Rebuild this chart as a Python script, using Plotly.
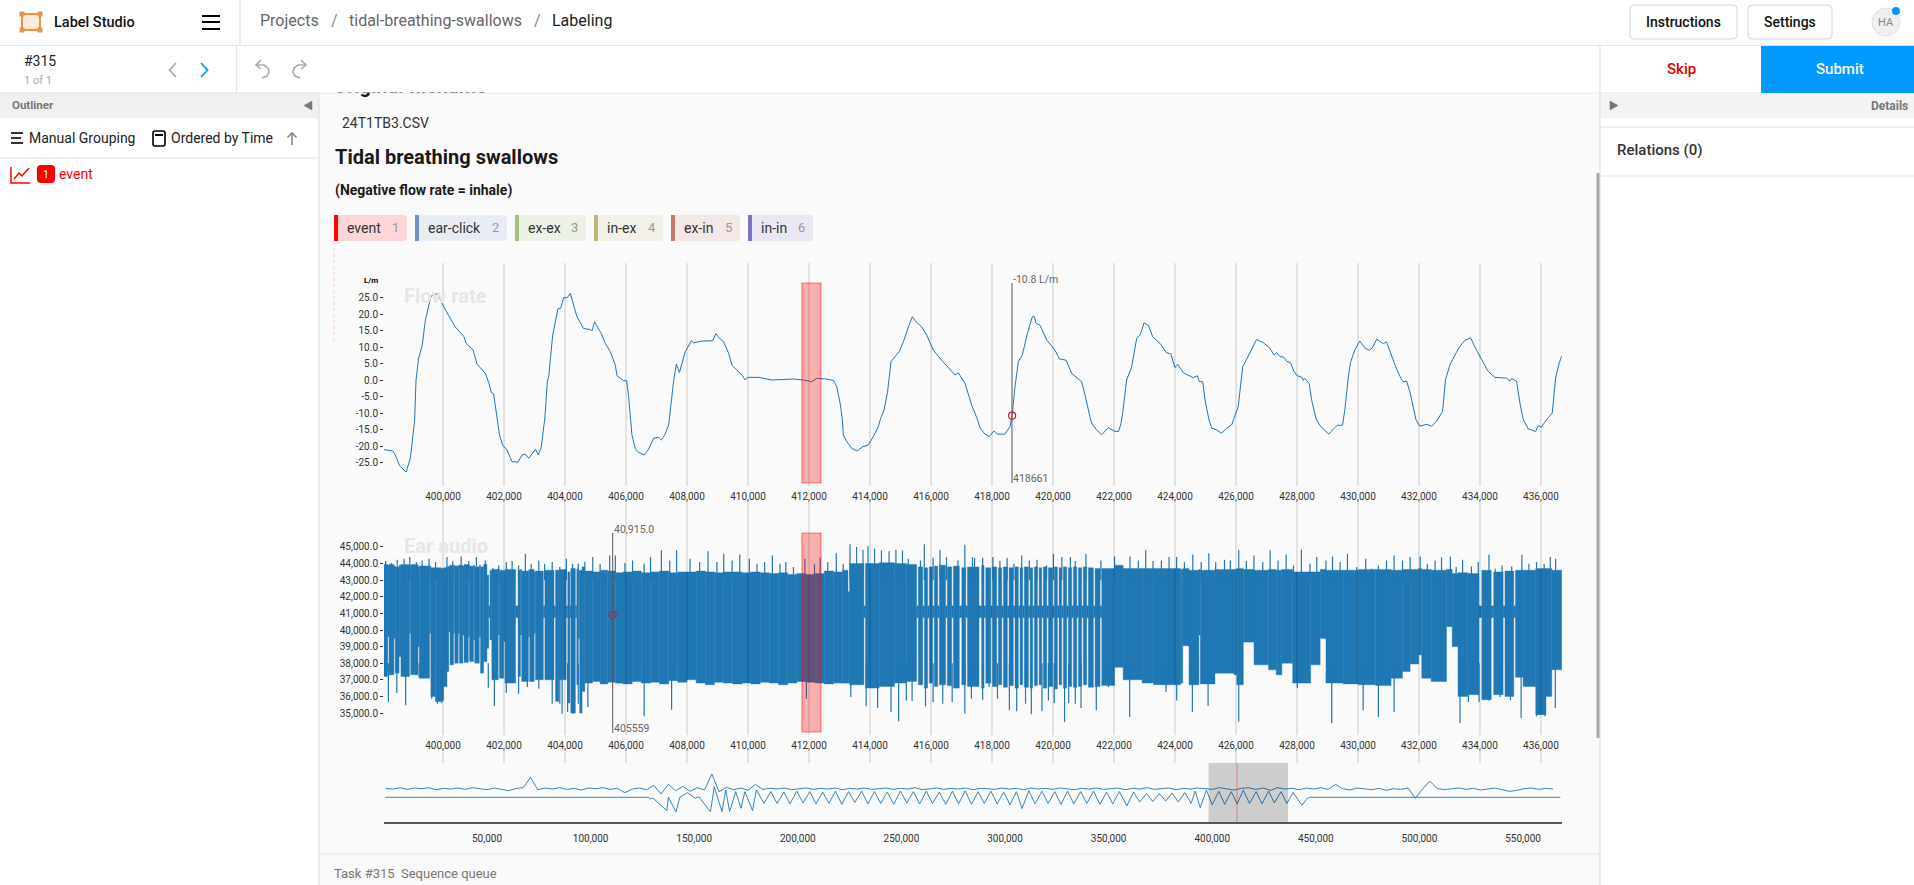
import numpy as np
import plotly.graph_objects as go

W, H = 1914, 885
FONT = "Roboto"
BLUE = "#1f77b4"

# flow rate (L/m)
flow_x = [398065, 398350, 398440, 398570, 398790, 398930, 399070, 399115, 399200, 399320,
          399420, 399605, 399825, 400020, 400400, 400690, 400755, 400985, 401115, 401390,
          401500, 401585, 401660, 401790, 401850, 401955, 402100, 402260, 402460, 402590,
          402700, 402810, 403030, 403125, 403225, 403310, 403335, 403420, 403465, 403595,
          403770, 403855, 403955, 404065, 404175, 404390, 404610, 404830, 404885, 404970,
          405190, 405320, 405485, 405650, 405705, 405925, 406020, 406085, 406165, 406195,
          406305, 406415, 406600, 406745, 406905, 407070, 407160, 407270, 407400, 407455,
          407565, 407650, 407750, 407945, 408145, 408220, 408490, 408840, 408950, 409040,
          409200, 409365, 409475, 409800, 409910, 409980, 410350, 410785, 411115, 411490,
          411815, 412090, 412250, 412580, 412800, 412910, 413020, 413095, 413125, 413235,
          413400, 413585, 413760, 413945, 414110, 414275, 414350, 414460, 414570, 414690,
          414960, 415095, 415260, 415390, 415475, 415695, 415860, 416075, 416350, 416790,
          416895, 417115, 417335, 417530, 417610, 417770, 417915, 418070, 418175, 418425,
          418590, 418661, 418755, 418865, 418995, 419160, 419325, 419390, 419445, 419575,
          419795, 420065, 420210, 420430, 420615, 420940, 421050, 421160, 421235, 421300,
          421430, 421595, 421815, 422035, 422145, 422220, 422285, 422415, 422580, 422745,
          422855, 422985, 423130, 423270, 423510, 423730, 423860, 424000, 424090, 424275,
          424600, 424735, 424800, 424910, 424985, 425115, 425205, 425365, 425530, 425695,
          425860, 425935, 426075, 426220, 426460, 426680, 426900, 427115, 427245, 427335,
          427440, 427570, 427660, 427790, 427900, 428010, 428150, 428205, 428260, 428400,
          428480, 428620, 428750, 428915, 429045, 429190, 429320, 429495, 429570, 429680,
          429755, 429900, 430060, 430225, 430370, 430465, 430620, 430720, 430830, 430935,
          431080, 431245, 431430, 431505, 431595, 431725, 431900, 432030, 432250, 432415,
          432575, 432775, 432870, 433015, 433230, 433340, 433505, 433690, 433890, 434105,
          434270, 434490, 434870, 434980, 435035, 435200, 435310, 435420, 435585, 435825,
          435910, 436020, 436185, 436370, 436480, 436600, 436675]
flow_y = [-21.1, -21.5, -22.7, -25.9, -27.9, -23.7, -12.1, 0.0, 6.6, 10.6,
          18.1, 25.4, 26.2, 22.2, 16.1, 13.1, 11.1, 9.1, 4.8, 2.0,
          -0.8, -3.8, -4.2, -12.1, -16.6, -19.7, -21.2, -24.7, -24.9, -22.7,
          -22.5, -23.7, -21.0, -22.7, -20.2, -13.6, -12.1, -0.5, 1.0, 13.6,
          21.6, 21.7, 25.0, 24.9, 26.2, 19.2, 15.6, 15.3, 14.9, 17.6,
          14.1, 11.1, 8.6, 4.5, 1.3, -0.2, -0.2, -5.0, -12.1, -16.6,
          -20.9, -21.9, -22.7, -20.9, -17.6, -17.4, -18.2, -16.6, -13.6, -9.1,
          0.0, 4.8, 2.3, 8.6, 11.9, 11.3, 11.8, 11.9, 14.1, 12.9,
          11.6, 8.1, 4.5, 1.5, 0.0, 0.8, 0.8, 0.0, 0.1, 0.3,
          0.0, -0.5, 0.5, 0.3, -0.1, -2.0, -7.0, -12.1, -16.6, -18.6,
          -20.7, -21.5, -20.2, -19.7, -17.1, -14.1, -11.6, -9.1, -4.0, 5.6,
          8.6, 11.6, 16.1, 19.2, 18.0, 16.1, 13.6, 9.1, 6.0, 1.5,
          2.2, -1.0, -7.6, -12.1, -14.6, -16.4, -17.1, -15.4, -16.4, -16.4,
          -14.1, -10.8, -2.0, 5.6, 7.6, 14.1, 19.2, 19.2, 17.2, 16.6,
          12.1, 9.1, 6.4, 6.0, 2.0, -0.5, -4.5, -9.1, -12.1, -13.6,
          -15.1, -16.6, -14.4, -15.6, -15.6, -13.6, -10.1, 0.0, 4.0, 12.6,
          13.6, 17.3, 16.6, 13.1, 11.1, 8.2, 8.0, 3.8, 4.8, 2.2,
          0.7, 1.3, -0.5, -0.5, -6.0, -12.1, -14.6, -15.1, -16.1, -14.6,
          -13.6, -11.6, -8.0, 4.0, 8.6, 12.3, 11.3, 9.6, 7.6, 8.3,
          7.1, 6.9, 5.7, 5.2, 2.6, 1.3, 0.9, -0.1, 0.5, -1.1,
          -6.0, -11.5, -13.8, -15.4, -16.4, -14.9, -13.7, -13.7, -9.0, 0.6,
          5.3, 9.2, 11.8, 9.7, 9.0, 9.7, 12.4, 11.7, 11.0, 11.6,
          8.2, 3.8, 0.1, -0.6, -0.3, -4.4, -12.0, -14.0, -13.4, -14.0,
          -12.5, -9.5, 0.1, 4.6, 8.4, 10.2, 12.0, 12.8, 9.0, 5.2,
          2.6, 0.8, 0.6, -0.3, 0.4, -0.3, -7.0, -12.0, -14.8, -15.6,
          -13.8, -14.2, -12.0, -10.0, 0.6, 5.2, 7.2]

# ear audio: body of the signal as columns, left edge / top / bottom
audio_x = [398060, 398190, 398230, 398390, 398430, 398560, 398620, 398900, 398940, 399180,
           399220, 399560, 399600, 399750, 399950, 400020, 400130, 400190, 400230, 400345,
           400385, 400500, 400540, 400650, 400690, 400830, 400870, 401000, 401040, 401190,
           401230, 401330, 401440, 401500, 401540, 401600, 401810, 401850, 401990, 402030,
           402380, 402460, 402540, 402580, 402800, 402840, 402990, 403030, 403290, 403340,
           403640, 403690, 403800, 404040, 404090, 404160, 404190, 404340, 404385, 404440,
           404480, 404560, 404650, 404900, 405150, 405400, 405650, 405900, 406200, 406500,
           406800, 407100, 407400, 407700, 408000, 408300, 408600, 408900, 409200, 409500,
           409800, 410100, 410400, 410700, 411000, 411300, 411600, 411900, 412200, 412500,
           412800, 413100, 413280, 413330, 413800, 413850, 414300, 414800, 415200,
           415530, 415585, 415730, 415785, 415890, 415945, 416055, 416110, 416220, 416275,
           416480, 416535, 416680, 416735, 416930, 417010, 417140, 417195, 417575, 417660,
           417740, 417795, 417960, 418015, 418155, 418210, 418320, 418375, 418505, 418560,
           418700, 418755, 418865, 418920, 419005, 419060, 419195, 419250, 419335, 419390,
           419490, 419545, 419630, 419685, 419795, 419850, 419990, 420045, 420145, 420200,
           420285, 420340, 420450, 420505, 420615, 420670, 420780, 420835, 420940, 420995,
           421105, 421160, 421325, 421380, 421545, 421600,
           422020, 422300, 422925, 423300, 424180, 424255, 424460, 424785, 424830, 425310,
           425940, 426025, 426240, 426590, 427070, 427320, 427505, 427860, 428450, 428760,
           428950, 429515, 430015, 430580, 431085, 431460, 431710, 431990, 432090, 432400,
           432905, 433090, 433280, 433595, 433970, 434060, 434370, 434450, 434760, 434820,
           435110, 435165, 435415, 435830, 436165, 436355, 436680]
audio_top = [43950, 43900, 43950, 43850, 43800, 43900, 43950, 43850, 43950, 43800,
             43850, 43850, 43750, 43750, 43700, 43750, 43800, 43850, 43900, 43900,
             43850, 43900, 43900, 43850, 43950, 43900, 43850, 43900, 43800, 43900,
             43800, 43950, 43300, 41450, 43600, 43650, 43650, 43600, 43550, 43650,
             41450, 43600, 43650, 43550, 43600, 43650, 43500, 43550, 41450, 43600,
             41450, 43600, 43650, 41450, 43500, 41450, 43700, 41450, 43650, 43550,
             43600, 43800, 43550, 43500, 43600, 43550, 43450, 43500, 43550, 43450,
             43500, 43550, 43450, 43500, 43500, 43550, 43500, 43450, 43500, 43500,
             43450, 43500, 43450, 43400, 43450, 43350, 43400, 43350, 43400, 43550,
             43500, 43600, 42300, 44000, 41450, 44000, 44050, 44000, 43950,
             41450, 43800, 41450, 43750, 41450, 43800, 41450, 43850, 41450, 43900,
             41450, 43800, 41450, 43850, 41450, 43750, 41450, 43800, 41450, 43900,
             41450, 43750, 41450, 43800, 41450, 43750, 41450, 43800, 41450, 43750,
             41450, 43800, 41450, 43750, 41450, 43800, 41450, 43750, 41450, 43800,
             41450, 43750, 41450, 43800, 41450, 43750, 41450, 43800, 41450, 43750,
             41450, 43800, 41450, 43750, 41450, 43800, 41450, 43750, 41450, 43800,
             41450, 43750, 41450, 43700, 41450, 43700,
             43900, 43700, 43700, 43700, 43650, 43700, 43600, 43650, 43600, 43650,
             43650, 43700, 43650, 43600, 43650, 43600, 43650, 43500, 43500, 43650,
             43600, 43600, 43650, 43650, 43600, 43650, 43650, 43700, 43650, 43600,
             43650, 43400, 43450, 43400, 41450, 43600, 41450, 43500, 41450, 43550,
             41450, 43600, 43600, 43700, 43700, 43600, 43600]
audio_bot = [37200, 39600, 37300, 39500, 37400, 38400, 37200, 39800, 37300, 39000,
             37100, 39800, 36000, 35700, 35750, 36600, 37500, 39900, 37900, 39800,
             38000, 39800, 38000, 39700, 38050, 39600, 38100, 39400, 38000, 39600,
             37400, 38100, 38900, 40750, 39400, 37000, 39700, 37100, 39300, 36800,
             40750, 37200, 39700, 36900, 39600, 36900, 39800, 37000, 40750, 37000,
             40750, 35700, 37000, 40750, 35600, 40750, 35000, 40750, 36700, 39500,
             35000, 36300, 36800, 36900, 36750, 36850, 36800, 36750, 36900, 36800,
             36850, 36750, 36950, 36850, 37000, 36800, 36700, 36850, 36800, 36750,
             36800, 36750, 36850, 36800, 36700, 36800, 36900, 36850, 36800, 36750,
             36800, 36800, 36800, 36700, 40750, 36500, 36600, 36800, 36900,
             40750, 36700, 40750, 36500, 40750, 36800, 40750, 36600, 40750, 36700,
             40750, 36650, 40750, 36500, 40750, 36700, 40750, 36600, 40750, 36500,
             40750, 36800, 40750, 36600, 40750, 36700, 40750, 36550, 40750, 36650,
             40750, 36500, 40750, 36700, 40750, 36550, 40750, 36500, 40750, 36650,
             40750, 36700, 40750, 36500, 40750, 36600, 40750, 36450, 40750, 36700,
             40750, 36500, 40750, 36600, 40750, 36550, 40750, 36600, 40750, 36700,
             40750, 36550, 40750, 36600, 40750, 36650,
             37750, 37000, 36800, 36700, 36800, 39050, 36700, 39700, 36750, 37400,
             37300, 36700, 39270, 37900, 37600, 37300, 38000, 36800, 37900, 39500,
             36800, 36750, 36700, 36650, 37100, 37500, 37950, 38500, 37100, 36900,
             40200, 39000, 36000, 36100, 40750, 35800, 40750, 36100, 40750, 36000,
             40750, 37150, 36600, 34900, 36000, 37600, 37600]

# tallest single strokes above and below the body
up_x = [398120, 398310, 398500, 398725, 398910, 399125, 399315, 399540, 399755, 400130,
        400320, 400595, 400845, 401095, 401385, 401635, 401825, 402075, 402265, 402480,
        402700, 402890, 403140, 403330, 403580, 403830, 404045, 404245, 404435, 404650,
        404910, 405150, 405465, 405650, 405965, 406215, 406595, 406805, 407160, 407435,
        407660, 408100, 408415, 408690, 408980, 409205, 409480, 409730, 410045, 410295,
        410545, 410800, 411050, 411240, 411490, 411865, 412180, 412365, 412615, 412895,
        413120, 413345, 413560, 413770, 413935, 414150, 414375, 414625, 414850, 415065,
        415255, 415480, 415655, 415780, 416070, 416295, 416510, 416885, 417110, 417360,
        417430, 417695, 418030, 418260, 418495, 418720, 418975, 419225, 419475, 419790,
        420015, 420290, 420570, 420730, 421080, 421570, 422020, 422275, 422525, 422800,
        423040, 423280, 423555, 423805, 424055, 424310, 424585, 424860, 425110, 425335,
        425625, 425815, 426090, 426340, 426590, 426880, 427120, 427380, 427645, 427885,
        428145, 428425, 428650, 428950, 429165, 429415, 429655, 429955, 430255, 430455,
        430670, 430935, 431185, 431460, 431710, 432040, 432275, 432530, 432740, 433030,
        433220, 433430, 433720, 433945, 434295, 434500, 434725, 435040, 435375, 435605,
        435855, 436105, 436305, 436480]
up_y = [44150, 44030, 44230, 44290, 44390, 44090, 44190, 44290, 44090, 44390,
        44150, 44430, 44150, 44390, 44190, 43750, 43890, 44090, 44150, 43890,
        44590, 43990, 44190, 43990, 44090, 43790, 44290, 43990, 43990, 44090,
        44390, 43990, 44490, 44490, 44030, 44190, 43990, 44390, 44800, 44190,
        44800, 44290, 44090, 44750, 44090, 44590, 44190, 44550, 44290, 43990,
        44090, 44490, 43990, 44090, 43790, 44290, 43990, 44350, 44090, 44630,
        43990, 45160, 45000, 44840, 45040, 44900, 44800, 44750, 44840, 44800,
        44290, 43890, 44190, 45160, 44350, 44840, 44390, 44190, 45140, 44390,
        44350, 44350, 44390, 44150, 44350, 43990, 44490, 44190, 44230, 43890,
        44590, 44390, 44390, 44150, 44590, 44190, 44430, 43830, 44430, 44190,
        44800, 44150, 44190, 44390, 44390, 44090, 44550, 44090, 44630, 44090,
        44230, 44190, 44840, 44150, 44490, 44090, 44800, 44190, 44550, 43890,
        44840, 43990, 44390, 44190, 44430, 44090, 44590, 43790, 44290, 43690,
        43890, 44190, 44490, 44190, 44390, 44430, 43990, 44190, 44390, 44430,
        43790, 44230, 43830, 44090, 44550, 43690, 43890, 43830, 44530, 43990,
        44090, 43990, 44390, 44290]
down_x = [398210, 398486, 398775, 399215, 399630, 399815, 399965, 401485, 401685, 402075,
          402480, 402765, 403140, 403580, 403830, 403905, 404085, 404270, 404435, 404750,
          406595, 407495, 411915, 413370, 413875, 414250, 414690, 414940, 415190, 415380,
          415820, 416070, 416385, 416695, 417110, 417325, 417695, 417905, 418180, 418570,
          418810, 419100, 419290, 419640, 419850, 420040, 420380, 420515, 420730, 420920,
          421420, 421820, 422515, 423705, 424055, 424570, 425085, 426090, 428010, 429140,
          430170, 430670, 431185, 433345, 433620, 433970, 434285, 434660, 434999, 435350,
          435855, 436130, 436470]
down_y = [35660, 36200, 35460, 37165, 35860, 35560, 35600, 36520, 35420, 36200,
          36160, 36560, 36460, 35560, 35560, 34960, 35060, 34960, 35560, 35360,
          34810, 35190, 35860, 35960, 35400, 35300, 35060, 34500, 35760, 35720,
          35400, 35660, 35560, 35660, 34960, 35860, 35800, 36560, 35860, 35160,
          35100, 35560, 34920, 35100, 35760, 35600, 34450, 35600, 35560, 35300,
          35160, 36560, 34760, 36260, 35760, 35060, 35420, 34470, 36520, 34390,
          35160, 34760, 35060, 34390, 35660, 35660, 35760, 35960, 35760, 34700,
          34800, 34800, 35300]

# overview strip: whole recording
ovw_audio_x = list(range(1000, 568000, 3500))
ovw_audio_y = [40700, 40500, 40900, 40400, 40800, 40600, 40900, 40300, 40700, 40500,
               40800, 40400, 40900, 40600, 40300, 40800, 40500, 40000, 40700, 40900,
               44000, 40300, 40800, 40500, 40900, 40400, 40700, 40200, 40800, 40600,
               40900, 40400, 40700, 39400, 40500, 40800, 40300, 41600, 39000, 41900,
               40000, 41300, 39800, 40900, 40200, 45000, 39700, 41000, 40300, 40800,
               40100, 41900, 40400, 40700, 40500, 40800, 40300, 40600, 40800, 40400,
               40700, 40500, 40800, 40300, 40700, 40500, 40800, 40400, 40600, 40800,
               40400, 40700, 40500, 40900, 40300, 40600, 40800, 40400, 40700, 40500,
               40800, 40300, 40700, 40600, 40400, 40800, 40500, 40700, 40300, 40800,
               40500, 40700, 40400, 40800, 40600, 40300, 40700, 40500, 40800, 40400,
               40600, 40800, 40300, 40700, 40500, 40900, 40400, 40600, 40800, 40300,
               40700, 40500, 40800, 40600, 40400, 40900, 40500, 40200, 40700, 40900,
               40400, 40800, 40100, 40900, 40500, 40700, 40300, 40800, 40500, 40900,
               40400, 41900, 40600, 40200, 40800, 40500, 40300, 40700, 40100, 40600,
               40400, 40800, 37700, 40500, 42900, 40700, 40300, 40600, 40800, 40400,
               40700, 40200, 40500, 40800, 40300, 39800, 40100, 40600, 40800, 40400,
               40700, 40500]
ovw_flow_x = [1000, 128000, 129030, 130140, 136790, 137530, 141220, 143070, 146760, 150450,
              152300, 157840, 159690, 163380, 165220, 167070, 170030, 172610, 174460, 178150,
              180000, 183690, 187000, 190000, 193300, 196200, 199500, 202500, 205800, 208800,
              212000, 215000, 218200, 221200, 224500, 227500, 230800, 233800, 237000, 240000,
              243200, 246300, 249500, 252600, 255800, 258800, 262000, 265000, 268300, 271400,
              274600, 277600, 280800, 283800, 287000, 290000, 293200, 296200, 299400, 302400,
              305500, 308200, 311500, 314500, 317800, 320800, 324000, 327000, 330200, 333200,
              336500, 339500, 342700, 345800, 349000, 352000, 355200, 358800, 362000, 365000,
              368300, 371300, 374500, 377500, 380600, 383600, 386800, 389800, 391800, 394200,
              397200, 400000, 403200, 406000, 409200, 412000, 415000, 418000, 421200, 424000,
              427200, 430000, 433200, 436000, 439000, 441800, 443300, 445900, 447000, 568000]
ovw_flow_y = [0, 0, -3.5, -2, -28.4, 0, -31, 0, 10, -2,
              1, -31, 22.7, -30.5, 15.6, -30.5, 12, -23.4, 12, -28.4,
              15.6, -12.8, 12, -13, 11, -14, 13, -12, 12, -14,
              11, -13, 13, -15, 12, -11, 13, -14, 12, -13,
              11, -15, 13, -12, 12, -14, 13, -13, 11, -15,
              13, -14, 14, -15, 12, -13, 13, -14, 11, -16,
              12, -24, 14, -14, 13, -13, 12, -15, 13, -14,
              12, -13, 13, -15, 11, -14, 12, -18, 11, -10,
              8, -9, 8, -8, 9, -10, 10, -13, 13, -22,
              15, -16, 13, -15, 12, -14, 15, -13, 12, -14,
              13, -12, 12, -13, 10, -6, -17, -2, 0, 0]

# axes ticks
x_ticks = list(range(400000, 436001, 2000))
ovw_ticks = list(range(50000, 550001, 50000))
flow_ticks = [25, 20, 15, 10, 5, 0, -5, -10, -15, -20, -25]
flow_tick_text = ["25.0", "20.0", "15.0", "10.0", "5.0", "0.0", "-5.0", "-10.0", "-15.0", "-20.0", "-25.0"]
audio_ticks = list(range(35000, 45001, 1000))
audio_tick_text = ["35,000.0", "36,000.0", "37,000.0", "38,000.0", "39,000.0", "40,000.0",
                   "41,000.0", "42,000.0", "43,000.0", "44,000.0", "45,000.0"]

# labels of the toolbar, name / hotkey
label_names = ["event", "ear-click", "ex-ex", "in-ex", "ex-in", "in-in"]
label_keys = ["1", "2", "3", "4", "5", "6"]

# the labelled region and the two crosshairs
region_x = [411770, 412393]
flow_cross = (418661, -10.8)
audio_cross = (405559, 40915)


def px(x):
    return x / W


def py(y):
    return 1 - y / H


shapes = []
notes = []


def rect(x0, y0, x1, y1, fill, line=None, layer="below", lw=1):
    shapes.append(dict(type="rect", xref="paper", yref="paper", x0=px(x0), x1=px(x1), y0=py(y1), y1=py(y0),
                       fillcolor=fill, line=dict(color=line or "rgba(0,0,0,0)", width=lw if line else 0), layer=layer))


def rrect(x0, y0, x1, y1, r, fill, line=None, lw=1):
    d = (f"M {px(x0 + r)} {py(y0)} L {px(x1 - r)} {py(y0)} Q {px(x1)} {py(y0)} {px(x1)} {py(y0 + r)} "
         f"L {px(x1)} {py(y1 - r)} Q {px(x1)} {py(y1)} {px(x1 - r)} {py(y1)} "
         f"L {px(x0 + r)} {py(y1)} Q {px(x0)} {py(y1)} {px(x0)} {py(y1 - r)} "
         f"L {px(x0)} {py(y0 + r)} Q {px(x0)} {py(y0)} {px(x0 + r)} {py(y0)} Z")
    shapes.append(dict(type="path", xref="paper", yref="paper", path=d, fillcolor=fill,
                       line=dict(color=line or "rgba(0,0,0,0)", width=lw if line else 0), layer="below"))


def hline(y, x0, x1, color="#e2e2e2", lw=1.2, layer="below"):
    shapes.append(dict(type="line", xref="paper", yref="paper", x0=px(x0), x1=px(x1), y0=py(y), y1=py(y),
                       line=dict(color=color, width=lw), layer=layer))


def vline(x, y0, y1, color="#e2e2e2", lw=1.2, layer="below"):
    shapes.append(dict(type="line", xref="paper", yref="paper", x0=px(x), x1=px(x), y0=py(y0), y1=py(y1),
                       line=dict(color=color, width=lw), layer=layer))


def poly(pts, color, lw=1.5, fill=None, layer="below"):
    d = "M " + " L ".join(f"{px(a)} {py(b)}" for a, b in pts)
    if fill:
        d += " Z"
    shapes.append(dict(type="path", xref="paper", yref="paper", path=d, fillcolor=fill or "rgba(0,0,0,0)",
                       line=dict(color=color, width=lw), layer=layer))


def circle(cx, cy, r, fill, line=None, lw=1):
    shapes.append(dict(type="circle", xref="paper", yref="paper", x0=px(cx - r), x1=px(cx + r),
                       y0=py(cy + r), y1=py(cy - r), fillcolor=fill,
                       line=dict(color=line or "rgba(0,0,0,0)", width=lw if line else 0), layer="below"))


def label(x, y, text, size=14, color="#333333", anchor="left", weight=None):
    notes.append(dict(xref="paper", yref="paper", x=px(x), y=py(y), text=text, showarrow=False,
                      xanchor=anchor, yanchor="middle", borderpad=0, borderwidth=0,
                      font=dict(family=FONT, size=size, color=color, weight=weight)))


# page panels
rect(0, 0, W, H, "#ffffff")
rect(319, 93, 1600, H, "#fafafa")
rect(0, 93, 319, 118, "#f0f0f0")
rect(1600, 94, W, 118, "#f3f3f3")
hline(45.5, 0, W)
hline(93, 0, W)
hline(158, 0, 319)
vline(319, 93, H)
vline(1600, 46, H)
vline(240, 0, 45.5)
vline(236.5, 46, 93)
hline(854, 319, 1600)
hline(127, 1600, W)
hline(176, 1600, W)
rect(1596.5, 173, 1599.5, 738, "#a8a8a8")

# header
rrect(22, 14, 40, 30, 1, "#fbeadc", "#e8934c", 2)
for cx, cy in [(22, 14), (40, 14), (22, 30), (40, 30)]:
    rect(cx - 2.5, cy - 2.5, cx + 2.5, cy + 2.5, "#e8934c")
label(54, 22, "Label Studio", 14.5, "#111111", weight=500)
for y in [16, 22, 29]:
    hline(y, 202, 220, "#000000", 2)
label(260, 21, "Projects", 16, "#666666")
label(334, 21, "/", 16, "#888888", "center")
label(348.5, 21, "tidal-breathing-swallows", 16, "#666666")
label(537, 21, "/", 16, "#888888", "center")
label(552, 21, "Labeling", 16, "#222222")
rrect(1630, 5, 1737, 39, 4, "#ffffff", "#d6d6d6")
label(1683.5, 22, "Instructions", 14, "#111111", "center", 500)
rrect(1748, 5, 1832, 39, 4, "#ffffff", "#d6d6d6")
label(1790, 22, "Settings", 14, "#111111", "center", 500)
circle(1886, 22, 14, "#f0f0f0", "#e0e0e0")
label(1886, 22, "HA", 11, "#888888", "center")
circle(1896, 11, 4, "#0099ff")

# second row
label(24, 61, "#315", 14, "#222222")
label(24, 80, "1 of 1", 11, "#aaaaaa")
poly([(176, 63), (169.5, 70), (176, 77)], "#aaaaaa", 1.8)
poly([(201, 63), (207.5, 70), (201, 77)], "#0099ff", 1.8)
poly([(261, 60), (256, 65), (261, 69)], "#aaaaaa", 1.6)
poly([(256.5, 65), (264, 65), (268, 68), (269, 72), (267, 76), (262, 78)], "#aaaaaa", 1.6)
poly([(301, 60), (306, 65), (301, 69)], "#aaaaaa", 1.6)
poly([(305.5, 65), (298, 65), (294, 68), (293, 72), (295, 76), (300, 78)], "#aaaaaa", 1.6)
poly([(329, 64), (340, 76)], "#aaaaaa", 1.6)
poly([(340, 64), (329, 76)], "#aaaaaa", 1.6)
hline(65.5, 364, 378, "#000000", 2)
hline(74.5, 364, 378, "#000000", 2)
circle(376, 65.5, 2.2, "#000000")
circle(365.5, 74.5, 2.2, "#000000")
rect(1761, 46, W, 93, "#0099ff")
label(1681, 69, "Skip", 15, "#e30000", "center", 500)
label(1840, 69, "Submit", 15, "#ffffff", "center", 500)

# left panel
label(12, 105, "<b>Outliner</b>", 11.5, "#777777")
poly([(312, 101), (312, 110), (304, 105.5)], "#777777", 0.5, "#777777")
for y, x1 in [(133, 23), (138, 21), (143, 23)]:
    hline(y, 11, x1, "#000000", 1.6)
label(28.5, 138, "Manual Grouping", 14, "#222222")
rrect(153, 131, 165, 146, 2, "rgba(0,0,0,0)", "#000000", 1.6)
hline(135, 155, 163, "#000000", 2)
label(171, 138, "Ordered by Time", 14, "#222222")
poly([(292, 145), (292, 133)], "#888888", 1.6)
poly([(287.5, 137.5), (292, 133), (296.5, 137.5)], "#888888", 1.6)
poly([(11, 167), (11, 183), (30, 183)], "#ff0000", 1.5)
poly([(14, 179), (19, 173), (22, 176), (29, 168)], "#ff0000", 1.5)
rrect(37, 165, 55, 183, 4, "#ff0000")
label(46, 174, "1", 10.5, "#ffffff", "center")
label(59, 174, "event", 14, "#ff0000")

# right panel
poly([(1610, 101), (1610, 110), (1618, 105.5)], "#777777", 0.5, "#777777")
label(1908, 106, "<b>Details</b>", 12, "#777777", "right")
label(1617, 150, "Relations (0)", 15, "#333333", weight=500)

# main column text
label(342, 123, "24T1TB3.CSV", 14, "#333333")
label(334.5, 157, "<b>Tidal breathing swallows</b>", 20, "#1a1a1a")
label(334.5, 190.5, "<b>(Negative flow rate = inhale)</b>", 14, "#1a1a1a")

# label chips
chip_x0 = [334, 415, 515, 594, 671, 748]
chip_x1 = [407, 507, 586, 663, 740, 813]
chip_bg = ["#ffd6d6", "#e8ecf4", "#edf2e6", "#f2f1e8", "#f3e8e5", "#e9e7f3"]
chip_bar = ["#ff0000", "#7293c2", "#a3c27a", "#bfb57a", "#c07a6a", "#8073c0"]
for name, key, a, b, bg, bar in zip(label_names, label_keys, chip_x0, chip_x1, chip_bg, chip_bar):
    rrect(a, 215, b, 241, 3, bg)
    rect(a, 215, a + 4, 241, bar)
    label(a + 12.5, 228, name, 14, "#333333")
    label(b - 11.5, 228, key, 13, "#999999", "center")

vline(334, 248, 345, "rgba(255,0,0,0.18)", 1)
shapes[-1]["line"]["dash"] = "dot"

label(404, 296, "<b>Flow rate</b>", 20, "#e6e6e6")
label(404, 546, "<b>Ear audio</b>", 20, "#e6e6e6")
label(378, 280, "<b>L/m</b>", 8, "#000000", "right")

# crosshair texts
vline(1012, 283, 483, "#555555", 1, "above")
vline(612.7, 533, 733, "#555555", 1, "above")
label(1013, 279, "-10.8 L/m", 10.5, "#666666")
label(1013, 478, "418661", 10.5, "#666666")
label(613.5, 529, "40,915.0", 10.5, "#666666")
label(613.5, 728, "405559", 10.5, "#666666")
label(334, 873, "Task #315&nbsp;&nbsp;Sequence queue", 13, "#777777")

# grid runs through both charts and into the overview
for v in x_ticks:
    for y0, y1 in [(263, 486), (500, 735), (750, 763)]:
        shapes.append(dict(type="line", xref="x", yref="paper", x0=v, x1=v, y0=py(y0), y1=py(y1),
                           line=dict(color="rgba(0,0,0,0.13)", width=1.5), layer="above"))

# labelled region in both charts
for y0, y1 in [(283, 483), (533, 732)]:
    shapes.append(dict(type="rect", xref="x", yref="paper", x0=region_x[0], x1=region_x[1], y0=py(y1), y1=py(y0),
                       fillcolor="rgba(255,0,0,0.3)", line=dict(color="rgba(255,0,0,0.45)", width=1.2), layer="above"))

# overview brush
rect(1208.6, 763, 1288, 822, "rgba(0,0,0,0.18)", layer="above")
vline(1237, 763, 822, "rgba(255,0,0,0.3)", 1.2, "above")
hline(823, 384, 1562, "#222222", 1.5, "above")

# header rows cover the cut off title
rect(320, 46, 1599, 92.4, "#ffffff", layer="above")

fig = go.Figure()

fig.add_trace(go.Scatter(x=[403000], y=[88], xaxis="x5", yaxis="y5", mode="text",
                         text=["<b>Original filename</b>"], textposition="middle center",
                         textfont=dict(family=FONT, size=20, color="#1a1a1a"),
                         cliponaxis=False, hoverinfo="skip"))

fig.add_trace(go.Scatter(x=flow_x, y=flow_y, mode="lines", line=dict(color=BLUE, width=1), hoverinfo="skip"))
fig.add_trace(go.Scatter(x=[flow_cross[0]], y=[flow_cross[1]], mode="markers", hoverinfo="skip",
                         marker=dict(symbol="circle-open", size=7, color="#e0102a", line=dict(width=1.2))))

n = min(len(audio_x), len(audio_top), len(audio_bot))
edges = np.array(audio_x[:n])
tops = np.array(audio_top[:n])
bots = np.array(audio_bot[:n])
fig.add_trace(go.Bar(x=edges[:-1], y=(tops - bots)[:-1], base=bots[:-1], width=np.diff(edges), offset=0,
                     xaxis="x2", yaxis="y2", hoverinfo="skip",
                     marker=dict(color=BLUE, line=dict(color=BLUE, width=0.4))))

sx, sy = [], []
for a, b in zip(up_x, up_y):
    sx += [a, a, None]
    sy += [b, 43000, None]
for a, b in zip(down_x, down_y):
    sx += [a, a, None]
    sy += [b, 38000, None]
fig.add_trace(go.Scatter(x=sx, y=sy, mode="lines", xaxis="x2", yaxis="y2", connectgaps=False,
                         line=dict(color=BLUE, width=1.2), hoverinfo="skip"))
fig.add_trace(go.Scatter(x=[audio_cross[0]], y=[audio_cross[1]], mode="markers", xaxis="x2", yaxis="y2",
                         hoverinfo="skip", marker=dict(symbol="circle-open", size=7, color="#e0102a",
                                                       line=dict(width=1.2))))

fig.add_trace(go.Scatter(x=ovw_audio_x, y=ovw_audio_y[:len(ovw_audio_x)], mode="lines", xaxis="x3", yaxis="y4",
                         line=dict(color=BLUE, width=0.9), hoverinfo="skip"))
fig.add_trace(go.Scatter(x=ovw_flow_x, y=ovw_flow_y, mode="lines", xaxis="x3", yaxis="y3",
                         line=dict(color=BLUE, width=0.9), hoverinfo="skip"))

tick_font = dict(family=FONT, size=10, color="#333333")


def x_axis(anchor, top, bottom, ticks, rng, ticklen):
    return dict(domain=[px(384), px(1562)], anchor=anchor, range=rng, tickvals=ticks, tickformat=",d",
                showgrid=False, zeroline=False, showline=False, ticks="outside", ticklen=ticklen,
                tickcolor="rgba(0,0,0,0)", tickfont=tick_font, fixedrange=True)


def y_axis(anchor, top, bottom, rng, ticks, text):
    return dict(domain=[py(bottom), py(top)], anchor=anchor, range=rng, tickmode="array", tickvals=ticks,
                ticktext=text, showgrid=False, zeroline=False, showline=False, ticks="outside", ticklen=3,
                tickcolor="#333333", tickwidth=1, tickfont=tick_font, fixedrange=True)


def hidden_y(top, bottom, rng, overlay=None):
    ax = dict(domain=[py(bottom), py(top)], anchor="x3", range=rng, visible=False, fixedrange=True)
    if overlay:
        ax["overlaying"] = overlay
    return ax


fig.update_layout(
    width=W, height=H,
    margin=dict(l=0, r=0, t=0, b=0, pad=0),
    paper_bgcolor="#ffffff",
    plot_bgcolor="rgba(0,0,0,0)",
    showlegend=False,
    barmode="overlay",
    shapes=shapes,
    annotations=notes,
    xaxis=x_axis("y", 283, 483, x_ticks, [398065, 436690], 4),
    yaxis=y_axis("x", 283, 483, [-31.2, 29.4], flow_ticks, flow_tick_text),
    xaxis2=x_axis("y2", 533, 733, x_ticks, [398065, 436690], 3),
    yaxis2=y_axis("x2", 533, 733, [33795, 45843], audio_ticks, audio_tick_text),
    xaxis3=x_axis("y3", 763, 822, ovw_ticks, [290, 568800], 7),
    yaxis3=hidden_y(763, 822, [-52.6, 73]),
    yaxis4=hidden_y(763, 822, [30610, 48310], "y3"),
    xaxis5=dict(domain=[0, 1], range=[0, W * 1000 / 1], visible=False, anchor="y5", fixedrange=True),
    yaxis5=dict(domain=[0, 1], range=[H, 0], visible=False, anchor="x5", fixedrange=True),
)
# title text sits in page pixels on its own axis
fig.data[0].x = [410]
fig.update_layout(xaxis5=dict(range=[0, W]))

fig.write_html("out.html", post_script="document.body.style.margin='0';document.body.style.overflow='hidden';",
               config=dict(displayModeBar=False))
